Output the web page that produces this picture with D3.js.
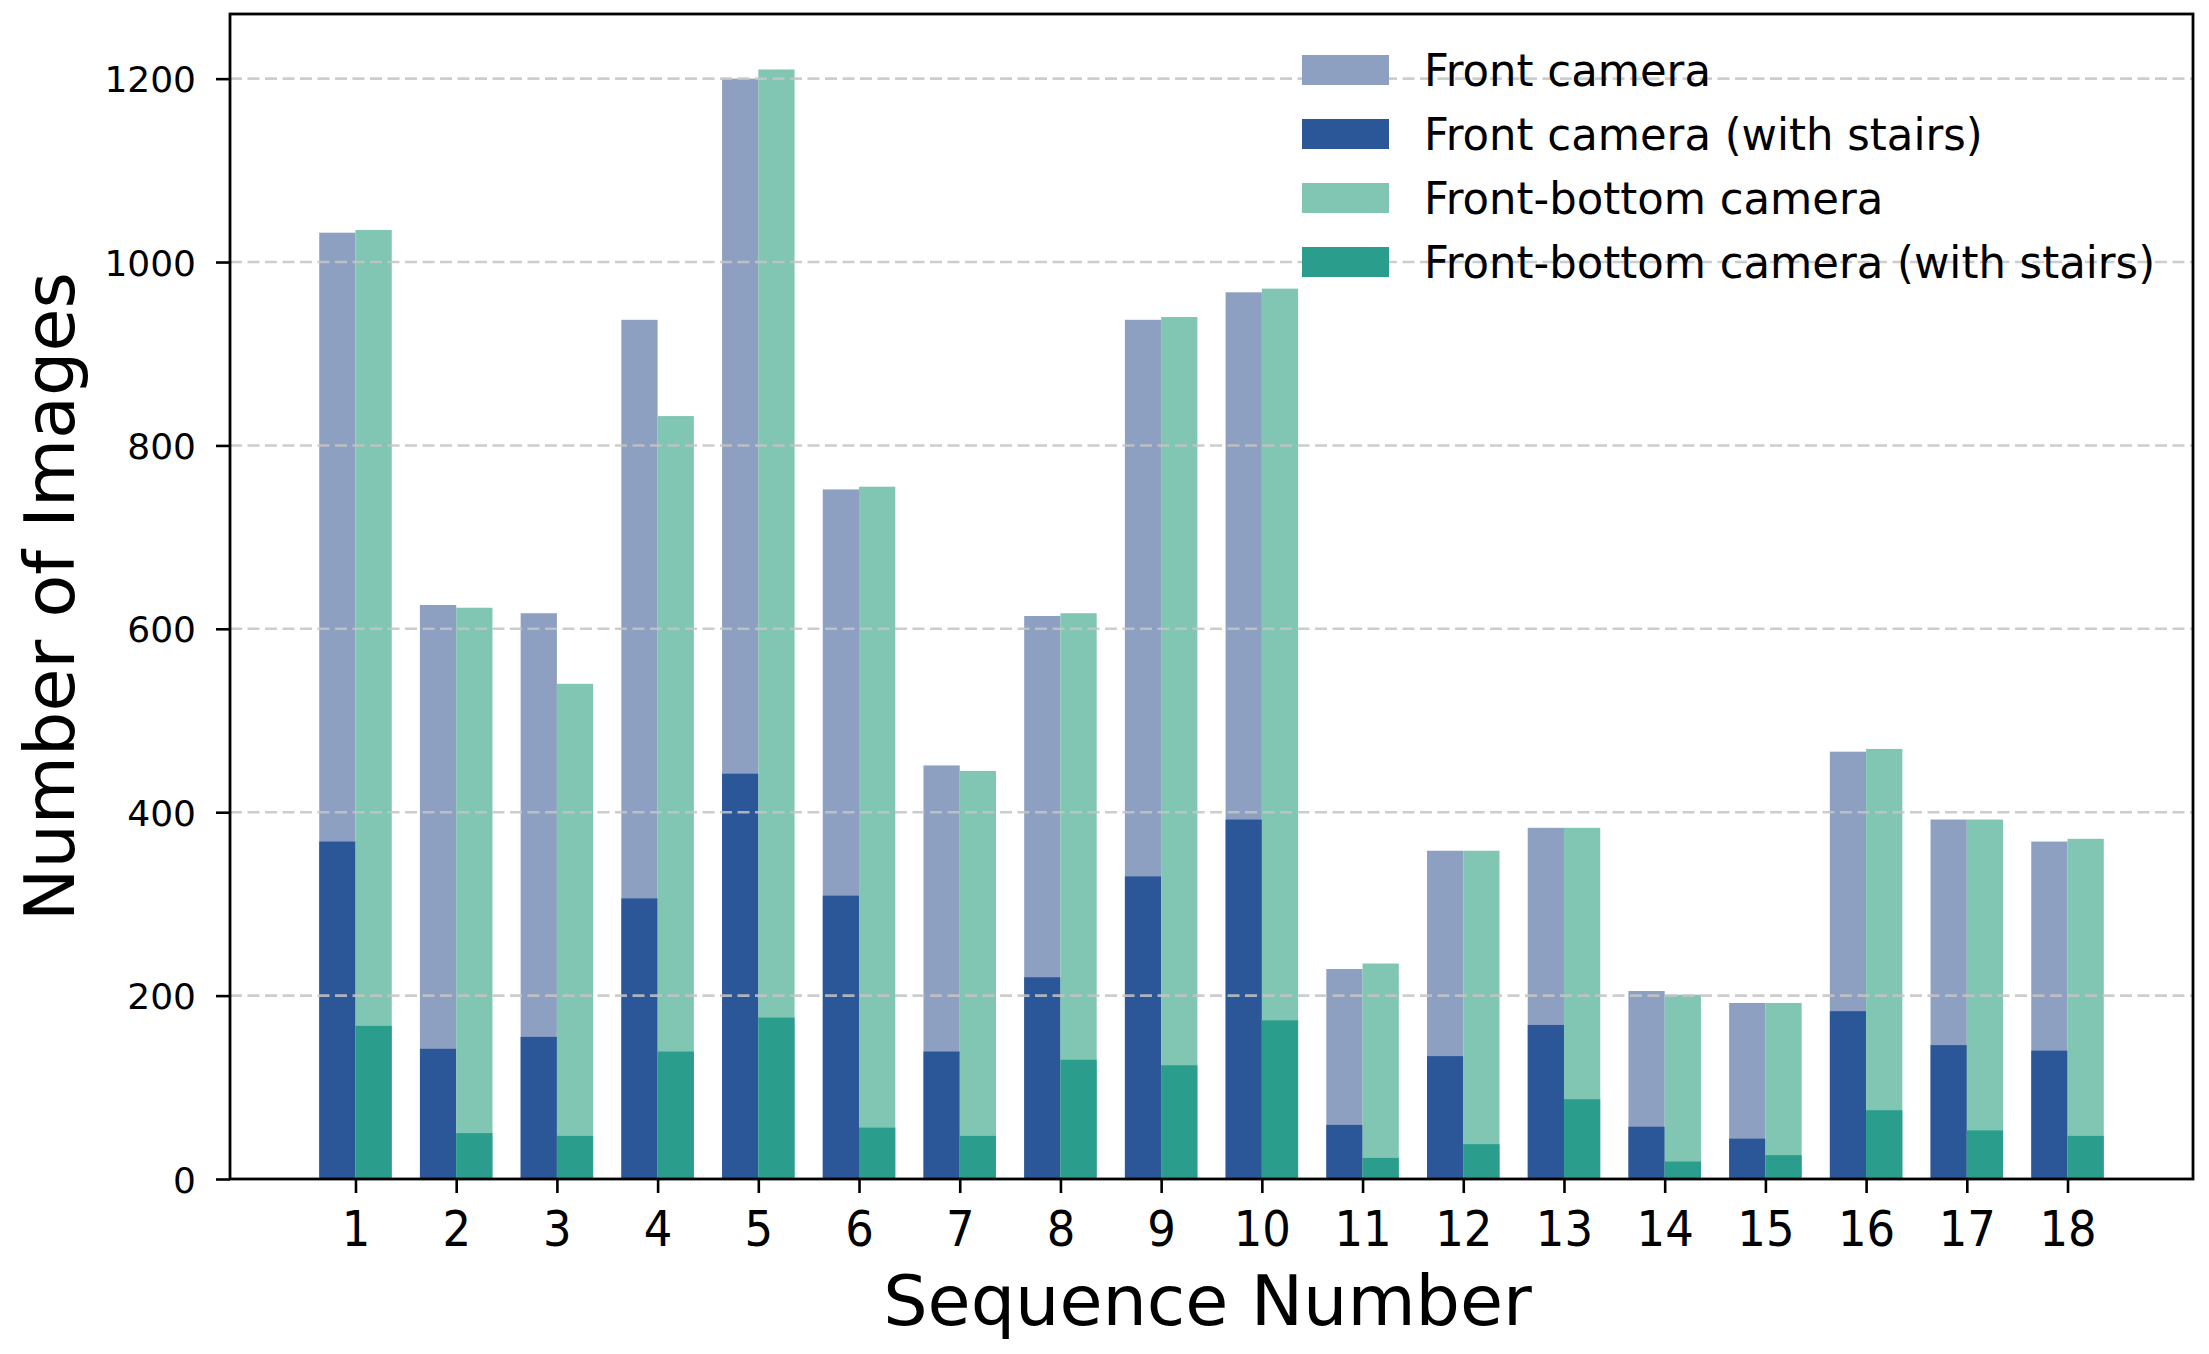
<!DOCTYPE html>
<html>
<head>
<meta charset="utf-8">
<script src="https://cdn.jsdelivr.net/npm/d3@7"></script>
<style>
  html, body { margin: 0; padding: 0; background: #fff; }
  svg { display: block; font-family: "DejaVu Sans", sans-serif; }
</style>
</head>
<body>
<svg id="chart" width="2209" height="1354"></svg>
<script>
// values
const sequences = [1, 2, 3, 4, 5, 6, 7, 8, 9, 10, 11, 12, 13, 14, 15, 16, 17, 18];
const frontTotal = [1032, 626, 617, 937, 1200, 752, 451, 614, 937, 967, 229, 358, 383, 205, 192, 466, 392, 368];
const frontStairs = [368, 142, 155, 306, 442, 309, 139, 220, 330, 392, 59, 134, 168, 57, 44, 183, 146, 140];
const bottomTotal = [1035, 623, 540, 832, 1210, 755, 445, 617, 940, 971, 235, 358, 383, 201, 192, 469, 392, 371];
const bottomStairs = [167, 50, 47, 139, 176, 56, 47, 130, 124, 173, 23, 38, 87, 19, 26, 75, 53, 47];
const yTicks = [0, 200, 400, 600, 800, 1000, 1200];
const legendLabels = ['Front camera', 'Front camera (with stairs)', 'Front-bottom camera', 'Front-bottom camera (with stairs)'];
const colors = ['#8ea0c2', '#2b5697', '#81c6b2', '#2a9d8c'];

const FONT = '"DejaVu Sans", sans-serif';
const barW = 0.36;
const margin = {top: 14, right: 16, bottom: 175, left: 230};
const W = 2209, H = 1354;
const width = W - margin.left - margin.right;
const height = H - margin.top - margin.bottom;

const svg = d3.select('#chart');
svg.append('rect').attr('width', W).attr('height', H).attr('fill', '#fff');
const g = svg.append('g').attr('transform', `translate(${margin.left},${margin.top})`);

// matplotlib-like auto limits: 5% margins on x, 5% headroom on y
const xMin = sequences[0] - barW, xMax = sequences[sequences.length - 1] + barW;
const xPad = (xMax - xMin) * 0.05;
const x = d3.scaleLinear().domain([xMin - xPad, xMax + xPad]).range([0, width]);
const yMaxVal = d3.max([...frontTotal, ...bottomTotal]);
const y = d3.scaleLinear().domain([0, yMaxVal * 1.05]).range([height, 0]);

const series = [
  {vals: frontTotal, off: -barW, color: colors[0]},
  {vals: frontStairs, off: -barW, color: colors[1]},
  {vals: bottomTotal, off: 0, color: colors[2]},
  {vals: bottomStairs, off: 0, color: colors[3]}
];

series.forEach((s) => {
  g.selectAll(null).data(sequences).enter().append('rect')
    .attr('x', (d) => x(d + s.off))
    .attr('width', x(barW) - x(0))
    .attr('y', (d, i) => y(s.vals[i]))
    .attr('height', (d, i) => y(0) - y(s.vals[i]))
    .attr('fill', s.color);
});

// dashed grid, drawn over the bars
g.append('g').selectAll('line').data(yTicks.filter((t) => t > 0)).enter().append('line')
  .attr('x1', 0).attr('x2', width)
  .attr('y1', (d) => y(d)).attr('y2', (d) => y(d))
  .attr('stroke', '#c4c4c4').attr('stroke-opacity', 0.85)
  .attr('stroke-width', 2.6).attr('stroke-dasharray', '12,5.5');

// axes
const xAxis = g.append('g').attr('transform', `translate(0,${height})`)
  .call(d3.axisBottom(x).tickValues(sequences).tickSize(14).tickSizeOuter(0));
xAxis.attr('font-family', FONT);
xAxis.select('.domain').remove();
xAxis.selectAll('.tick line').attr('stroke', '#000').attr('stroke-width', 2.6);
xAxis.selectAll('.tick text')
  .attr('y', 67).attr('dy', null)
  .attr('font-size', 50).attr('fill', '#000')
  .attr('transform', 'scale(0.9,1)');

const yAxis = g.append('g')
  .call(d3.axisLeft(y).tickValues(yTicks).tickFormat(d3.format('d')).tickSize(14).tickSizeOuter(0));
yAxis.attr('font-family', FONT);
yAxis.select('.domain').remove();
yAxis.selectAll('.tick line').attr('stroke', '#000').attr('stroke-width', 2.6);
yAxis.selectAll('.tick text')
  .attr('x', -34).attr('dy', null).attr('y', 13)
  .attr('font-size', 36).attr('fill', '#000');

// frame
g.append('rect').attr('width', width).attr('height', height)
  .attr('fill', 'none').attr('stroke', '#000').attr('stroke-width', 2.8);

// axis labels
svg.append('text').attr('x', margin.left + width / 2 - 4).attr('y', 1325)
  .attr('text-anchor', 'middle').attr('font-size', 70).attr('fill', '#000')
  .text('Sequence Number');
svg.append('text')
  .attr('transform', `translate(74,${margin.top + height / 2}) rotate(-90)`)
  .attr('text-anchor', 'middle').attr('font-size', 70).attr('fill', '#000')
  .text('Number of Images');

// legend (no frame)
const legend = svg.append('g').attr('transform', 'translate(1302,70)');
legendLabels.forEach((lbl, i) => {
  const row = legend.append('g').attr('transform', `translate(0,${i * 64})`);
  row.append('rect').attr('x', 0).attr('y', -15).attr('width', 87).attr('height', 30)
    .attr('fill', colors[i]);
  row.append('text').attr('x', 122).attr('y', 16)
    .attr('font-size', 44).attr('fill', '#000')
    .attr('transform', 'translate(122,0) scale(0.985,1) translate(-122,0)')
    .text(lbl);
});
</script>
</body>
</html>
